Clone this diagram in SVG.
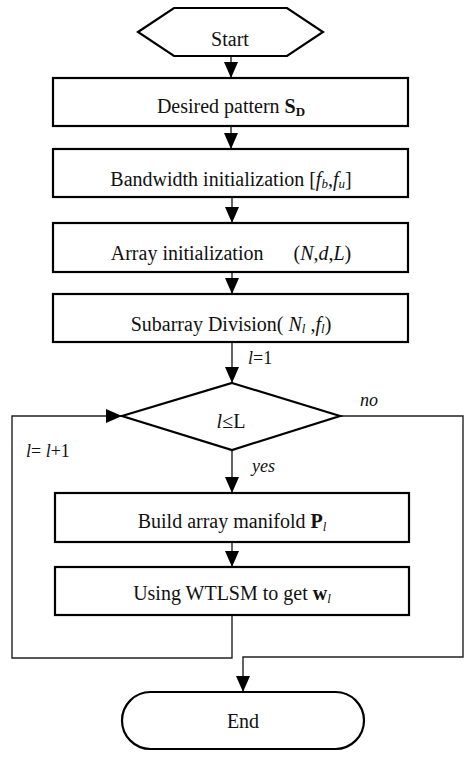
<svg xmlns="http://www.w3.org/2000/svg" width="474" height="760" viewBox="0 0 474 760">
<style>
.box{fill:#fff;stroke:#000;stroke-width:2.2}
.ln{fill:none;stroke:#222;stroke-width:1.4}
.t{font-family:"Liberation Serif","Times New Roman",serif;font-size:20px;fill:#111;text-anchor:middle}
.lb{font-family:"Liberation Serif","Times New Roman",serif;font-size:18px;fill:#111}
.i{font-style:italic}
.b{font-weight:bold}
.s{font-size:13px}
</style>
<defs>
<marker id="ah" markerUnits="userSpaceOnUse" markerWidth="16" markerHeight="14" viewBox="0 0 16 14" refX="16" refY="7" orient="auto">
<path d="M0,0 L16,7 L0,14 z" fill="#000"/>
</marker>
</defs>

<g id="connectors">
<line class="ln" x1="231" y1="57" x2="231" y2="78" marker-end="url(#ah)"/>
<line class="ln" x1="231" y1="126" x2="231" y2="149" marker-end="url(#ah)"/>
<line class="ln" x1="232" y1="197" x2="232" y2="223" marker-end="url(#ah)"/>
<line class="ln" x1="232" y1="272" x2="232" y2="294" marker-end="url(#ah)"/>
<line class="ln" x1="232" y1="342" x2="232" y2="383" marker-end="url(#ah)"/>
<line class="ln" x1="232" y1="450" x2="232" y2="493" marker-end="url(#ah)"/>
<line class="ln" x1="232" y1="542" x2="232" y2="567" marker-end="url(#ah)"/>
<polyline class="ln" points="232,615 232,658 12,658 12,416 122,416" marker-end="url(#ah)"/>
<polyline class="ln" points="340,416 463,416 463,657 243,657 243,692" marker-end="url(#ah)"/>
<text class="lb" x="248" y="364"><tspan class="i">l</tspan>=1</text>
<text class="lb i" x="360" y="406">no</text>
<text class="lb" x="26" y="457"><tspan class="i">l</tspan>= <tspan class="i">l</tspan>+1</text>
<text class="lb i" x="252" y="472">yes</text>
</g>

<g id="start">
<polygon class="box" points="138,32 174,8 287,8 323,32 287,56 174,56"/>
<text class="t" x="230" y="46">Start</text>
</g>

<g id="desired">
<rect class="box" x="53" y="78" width="355" height="48"/>
<text class="t" x="231" y="113">Desired pattern <tspan class="b">S</tspan><tspan class="b s" dy="3">D</tspan></text>
</g>

<g id="bandwidth">
<rect class="box" x="53" y="149" width="355" height="48"/>
<text class="t" x="231" y="186">Bandwidth initialization [<tspan class="i">f</tspan><tspan class="i s" dy="2">b</tspan><tspan dy="-2">,</tspan><tspan class="i">f</tspan><tspan class="i s" dy="2">u</tspan><tspan dy="-2">]</tspan></text>
</g>

<g id="array">
<rect class="box" x="53" y="223" width="355" height="49"/>
<text class="t" x="231" y="260" xml:space="preserve">Array initialization      (<tspan class="i">N</tspan>,<tspan class="i">d</tspan>,<tspan class="i">L</tspan>)</text>
</g>

<g id="subarray">
<rect class="box" x="53" y="294" width="355" height="48"/>
<text class="t" x="231" y="331">Subarray Division( <tspan class="i">N</tspan><tspan class="i s" dy="2">l</tspan><tspan dy="-2"> ,</tspan><tspan class="i">f</tspan><tspan class="i s" dy="2">l</tspan><tspan dy="-2">)</tspan></text>
</g>

<g id="decision">
<polygon class="box" points="232,383 340,416 232,450 122,416"/>
<text class="t" x="231" y="428"><tspan class="i">l</tspan>≤L</text>
</g>

<g id="build">
<rect class="box" x="55" y="493" width="354" height="49"/>
<text class="t" x="232" y="528">Build array manifold <tspan class="b">P</tspan><tspan class="i s" dy="3">l</tspan></text>
</g>

<g id="wtlsm">
<rect class="box" x="55" y="567" width="354" height="48"/>
<text class="t" x="232" y="600">Using WTLSM to get <tspan class="b">w</tspan><tspan class="i s" dy="3">l</tspan></text>
</g>

<g id="end">
<rect class="box" x="122" y="692" width="242" height="57" rx="28.5" ry="28.5"/>
<text class="t" x="243" y="728">End</text>
</g>
</svg>
